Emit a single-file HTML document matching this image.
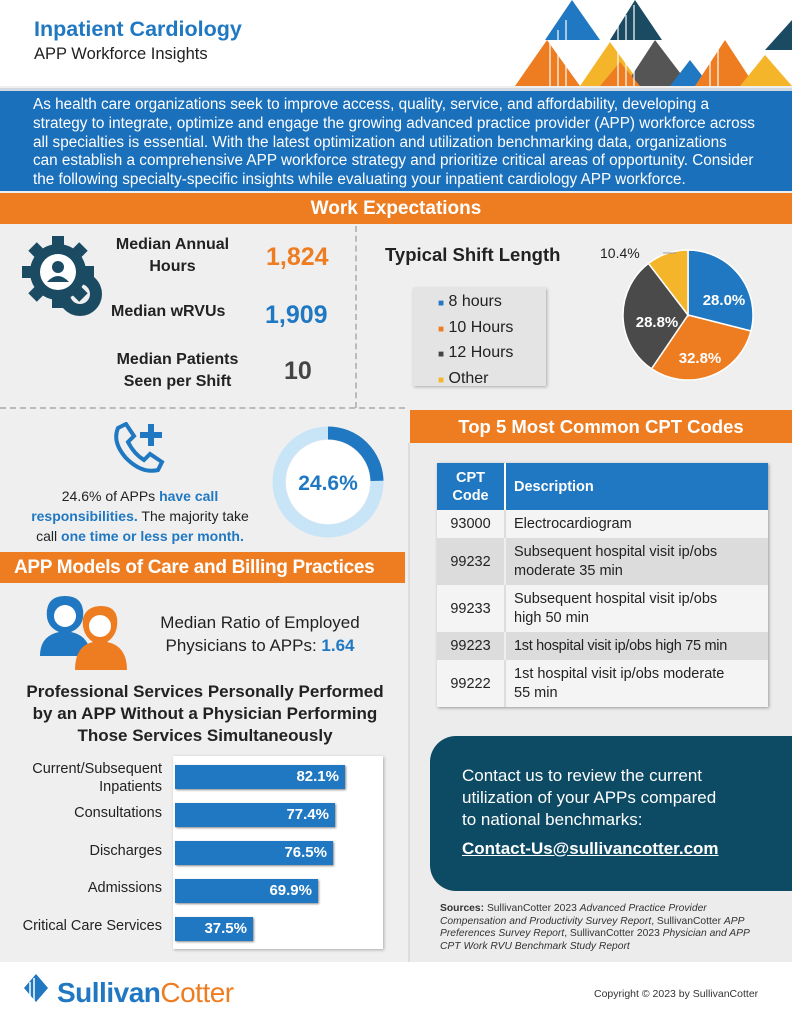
<!DOCTYPE html>
<html><head><meta charset="utf-8"><style>
*{margin:0;padding:0;box-sizing:border-box}
body{width:792px;height:1024px;position:relative;overflow:hidden;background:#efefef;font-family:"Liberation Sans",sans-serif;color:#222}
.a{position:absolute}
.c{text-align:center}
.b{font-weight:bold}
.nw{white-space:nowrap}
</style></head><body>
<div class="a" style="left:0;top:0;width:792px;height:86px;background:#fff"></div>
<div class="a" style="left:0;top:962px;width:792px;height:62px;background:#fff"></div>
<div class="a" style="left:408px;top:443px;width:384px;height:519px;background:#ececec;border-left:2px solid #ddd"></div>

<svg class="a" style="left:510px;top:0" width="282" height="86" viewBox="0 0 282 86">
<polygon points="35,40 62,0 90,40" fill="#1f78c1"/>
<polygon points="100,40 125,0 152,40" fill="#1b4a63"/>
<polygon points="5,86 37,40 70,86" fill="#ee7d22"/>
<polygon points="70,86 100,42 132,86" fill="#f5b52a"/>
<polygon points="115,86 145,40 180,86" fill="#555"/>
<polygon points="160,86 180,60 200,86" fill="#1f78c1"/>
<polygon points="185,86 215,40 245,86" fill="#ee7d22"/>
<polygon points="230,86 255,55 282,86" fill="#f5b52a"/>
<polygon points="255,50 282,20 282,50" fill="#1b4a63"/>
<polygon points="90,86 110,62 130,86" fill="#ee7d22"/>
<g stroke="#fff" stroke-width="1.5" opacity=".8"><line x1="40" y1="40" x2="40" y2="86"/><line x1="48" y1="30" x2="48" y2="86"/><line x1="56" y1="20" x2="56" y2="86"/><line x1="108" y1="25" x2="108" y2="86"/><line x1="116" y1="15" x2="116" y2="86"/><line x1="124" y1="5" x2="124" y2="86"/><line x1="200" y1="50" x2="200" y2="86"/><line x1="208" y1="45" x2="208" y2="86"/></g>
</svg>

<div class="a b nw" style="left:34px;top:17px;font-size:21.5px;color:#1f78c1">Inpatient Cardiology</div>
<div class="a nw" style="left:34px;top:45px;font-size:16.5px;color:#222">APP Workforce Insights</div>

<div class="a" style="left:0;top:88px;width:792px;height:103px;background:#1a70bb;border-top:3px solid #cfd8e0"></div>
<div class="a nw" style="left:33px;top:96px;font-size:15.3px;line-height:18.8px;color:#fff">As health care organizations seek to improve access, quality, service, and affordability, developing a<br>strategy to integrate, optimize and engage the growing advanced practice provider (APP) workforce across<br>all specialties is essential. With the latest optimization and utilization benchmarking data, organizations<br>can establish a comprehensive APP workforce strategy and prioritize critical areas of opportunity. Consider<br>the following specialty-specific insights while evaluating your inpatient cardiology APP workforce.</div>
<div class="a b c" style="left:0;top:193px;width:792px;height:31px;background:#ee7d22;color:#fff;font-size:19px;line-height:31px">Work Expectations</div>

<svg class="a" style="left:22px;top:236px" width="85" height="85" viewBox="0 0 85 85">
<circle cx="58" cy="58" r="22" fill="#1b4a63"/><circle cx="58" cy="58" r="10" fill="#efefef"/>
<g fill="#1b4a63"><circle cx="36" cy="36" r="28"/><rect x="30" y="0" width="12" height="72"/><rect x="0" y="30" width="72" height="12"/><rect x="30" y="0" width="12" height="72" transform="rotate(45 36 36)"/><rect x="30" y="0" width="12" height="72" transform="rotate(-45 36 36)"/></g>
<circle cx="36" cy="36" r="18" fill="#fff"/><circle cx="36" cy="31" r="6" fill="#1b4a63"/><path d="M25 46 q11 -12 22 0 z" fill="#1b4a63"/>
</svg>
<div class="a b c nw" style="left:100px;top:234px;width:145px;font-size:16px;line-height:22px">Median Annual<br>Hours</div>
<div class="a b" style="left:266px;top:243px;font-size:25px;color:#ee7d22">1,824</div>
<div class="a b nw" style="left:111px;top:303px;font-size:16px">Median wRVUs</div>
<div class="a b" style="left:265px;top:301px;font-size:25px;color:#1f78c1">1,909</div>
<div class="a b c nw" style="left:100px;top:349px;width:155px;font-size:16px;line-height:22px">Median Patients<br>Seen per Shift</div>
<div class="a b" style="left:284px;top:357px;font-size:25px;color:#444">10</div>
<div class="a" style="left:355px;top:226px;height:182px;border-left:2px dashed #bbb"></div>
<div class="a" style="left:0;top:407px;width:405px;border-top:2px dashed #bbb"></div>

<div class="a b nw" style="left:385px;top:244px;font-size:18.5px">Typical Shift Length</div>
<div class="a" style="left:600px;top:245px;font-size:14px">10.4%</div>
<div class="a nw" style="left:413px;top:288px;width:133px;height:98px;background:#e4e4e4;box-shadow:1px 1px 3px #aaa;font-size:16px;line-height:23.5px;padding:2px 0 0 25px">
<div><span style="color:#1f78c1;font-size:10px">■</span> 8 hours</div><div><span style="color:#ee7d22;font-size:10px">■</span> 10 Hours</div><div><span style="color:#444;font-size:10px">■</span> 12 Hours</div><div><span style="color:#f5b52a;font-size:10px">■</span> Other</div></div>
<svg class="a" style="left:618px;top:245px" width="140" height="140" viewBox="-70 -70 140 140">
<g stroke="#fff" stroke-width="1.5">
<path d="M0 0 L0 -65 A65 65 0 0 1 63.0 16.0 Z" fill="#1f78c1"/>
<path d="M0 0 L63.0 16.0 A65 65 0 0 1 -36.5 53.8 Z" fill="#ee7d22"/>
<path d="M0 0 L-36.5 53.8 A65 65 0 0 1 -39.5 -51.6 Z" fill="#4a4a4a"/>
<path d="M0 0 L-39.5 -51.6 A65 65 0 0 1 0 -65 Z" fill="#f5b52a"/>
</g>
<g fill="#fff" font-weight="bold" font-size="15" font-family="Liberation Sans,sans-serif" text-anchor="middle">
<text x="36" y="-10">28.0%</text><text x="12" y="48">32.8%</text><text x="-31" y="12">28.8%</text></g>
<polyline points="-12,-62 -25,-62" stroke="#999" fill="none"/>
</svg>

<div class="a b c nw" style="left:410px;top:410px;width:382px;height:33px;background:#ee7d22;color:#fff;font-size:18.5px;line-height:33px">Top 5 Most Common CPT Codes</div>

<svg class="a" style="left:112px;top:422px" width="58" height="52" viewBox="0 0 58 52">
<path d="M6 6 L14 2 L22 14 L16 20 Q22 32 32 38 L38 32 L50 40 L46 48 Q30 52 14 36 Q0 20 6 6 Z" fill="none" stroke="#1f78c1" stroke-width="4"/>
<rect x="36" y="2" width="6" height="22" fill="#1f78c1"/><rect x="28" y="10" width="22" height="6" fill="#1f78c1"/>
</svg>
<div class="a c nw" style="left:10px;top:486px;width:260px;font-size:14px;line-height:20px">24.6% of APPs <b style="color:#1f78c1">have call</b><br><b style="color:#1f78c1">responsibilities.</b> The majority take<br>call <b style="color:#1f78c1">one time or less per month.</b></div>
<svg class="a" style="left:270px;top:424px" width="116" height="116" viewBox="-58 -58 116 116">
<circle r="49" fill="none" stroke="#c8e4f7" stroke-width="13"/>
<circle r="49" fill="none" stroke="#1f78c1" stroke-width="13" stroke-dasharray="75.7 400" transform="rotate(-90)"/>
<circle r="42" fill="#fff"/>
<text y="8" text-anchor="middle" font-size="21" font-weight="bold" fill="#1f78c1" font-family="Liberation Sans,sans-serif">24.6%</text>
</svg>

<div class="a b nw" style="left:0;top:552px;width:405px;height:31px;background:#ee7d22;color:#fff;font-size:19px;line-height:31px;padding-left:14px;letter-spacing:-0.3px">APP Models of Care and Billing Practices</div>

<svg class="a" style="left:35px;top:596px" width="96" height="74" viewBox="0 0 96 74">
<path d="M5 60 Q5 40 24 36 Q10 30 12 14 Q14 0 30 0 Q46 0 48 14 Q50 30 36 36 Q55 40 55 60 Z" fill="#1f78c1"/>
<circle cx="30" cy="20" r="11" fill="#fff"/>
<path d="M40 74 Q40 50 58 46 Q46 38 48 22 Q52 10 66 10 Q80 10 82 22 Q84 38 72 46 Q92 50 92 74 Z" fill="#ee7d22"/>
<circle cx="65" cy="30" r="11" fill="#fff"/>
</svg>
<div class="a c nw" style="left:140px;top:611px;width:240px;font-size:17px;line-height:23px">Median Ratio of Employed<br>Physicians to APPs: <b style="color:#1f78c1">1.64</b></div>
<div class="a b c nw" style="left:5px;top:681px;width:400px;font-size:17px;line-height:22px">Professional Services Personally Performed<br>by an APP Without a Physician Performing<br>Those Services Simultaneously</div>

<div class="a" style="left:173px;top:756px;width:210px;height:193px;background:#fff;box-shadow:1px 1px 3px #aaa"></div>
<div class="a nw" style="left:0;top:760px;width:162px;text-align:right;font-size:14.5px;line-height:18px">Current/Subsequent<br>Inpatients</div>
<div class="a" style="left:0;top:805px;width:162px;text-align:right;font-size:14.5px">Consultations</div>
<div class="a" style="left:0;top:843px;width:162px;text-align:right;font-size:14.5px">Discharges</div>
<div class="a" style="left:0;top:880px;width:162px;text-align:right;font-size:14.5px">Admissions</div>
<div class="a nw" style="left:0;top:918px;width:162px;text-align:right;font-size:14.5px">Critical Care Services</div>
<div class="a b" style="left:175px;top:765px;width:170px;height:24px;background:#1f78c1;color:#fff;font-size:15px;line-height:24px;text-align:right;padding-right:6px;box-shadow:1px 1px 2px #888">82.1%</div>
<div class="a b" style="left:175px;top:803px;width:160px;height:24px;background:#1f78c1;color:#fff;font-size:15px;line-height:24px;text-align:right;padding-right:6px;box-shadow:1px 1px 2px #888">77.4%</div>
<div class="a b" style="left:175px;top:841px;width:158px;height:24px;background:#1f78c1;color:#fff;font-size:15px;line-height:24px;text-align:right;padding-right:6px;box-shadow:1px 1px 2px #888">76.5%</div>
<div class="a b" style="left:175px;top:879px;width:143px;height:24px;background:#1f78c1;color:#fff;font-size:15px;line-height:24px;text-align:right;padding-right:6px;box-shadow:1px 1px 2px #888">69.9%</div>
<div class="a b" style="left:175px;top:917px;width:78px;height:24px;background:#1f78c1;color:#fff;font-size:15px;line-height:24px;text-align:right;padding-right:6px;box-shadow:1px 1px 2px #888">37.5%</div>

<table class="a nw" style="left:437px;top:463px;width:331px;border-collapse:collapse;font-size:14.5px;box-shadow:1px 1px 3px #999;background:#f4f4f4">
<tr style="background:#1f78c1;color:#fff;height:47px"><td class="b c" style="width:68px;line-height:18px;border-right:2px solid #fff">CPT<br>Code</td><td class="b" style="padding-left:8px">Description</td></tr>
<tr style="height:28px"><td class="c" style="border-right:2px solid #ddd">93000</td><td style="padding-left:8px">Electrocardiogram</td></tr>
<tr style="height:47px;background:#dcdcdc"><td class="c" style="border-right:2px solid #eee">99232</td><td style="padding-left:8px;line-height:19px">Subsequent hospital visit ip/obs<br>moderate 35 min</td></tr>
<tr style="height:47px"><td class="c" style="border-right:2px solid #ddd">99233</td><td style="padding-left:8px;line-height:19px">Subsequent hospital visit ip/obs<br>high 50 min</td></tr>
<tr style="height:28px;background:#dcdcdc"><td class="c" style="border-right:2px solid #eee">99223</td><td style="padding-left:8px;letter-spacing:-0.3px">1st hospital visit ip/obs high 75 min</td></tr>
<tr style="height:47px"><td class="c" style="border-right:2px solid #ddd">99222</td><td style="padding-left:8px;line-height:19px">1st hospital visit ip/obs moderate<br>55 min</td></tr>
</table>

<div class="a" style="left:430px;top:736px;width:362px;height:155px;background:#0d4a63;border-radius:26px 0 0 26px"></div>
<div class="a nw" style="left:462px;top:765px;font-size:17px;line-height:22px;color:#fff">Contact us to review the current<br>utilization of your APPs compared<br>to national benchmarks:</div>
<div class="a b nw" style="left:462px;top:839px;font-size:17px;color:#fff;text-decoration:underline">Contact-Us@sullivancotter.com</div>
<div class="a nw" style="left:440px;top:903px;font-size:10.3px;line-height:12.5px;color:#333"><b>Sources:</b> SullivanCotter 2023 <i>Advanced Practice Provider</i><br><i>Compensation and Productivity Survey Report</i>, SullivanCotter <i>APP</i><br><i>Preferences Survey Report</i>, SullivanCotter 2023 <i>Physician and APP</i><br><i>CPT Work RVU Benchmark Study Report</i></div>

<svg class="a" style="left:24px;top:974px" width="30" height="32" viewBox="0 0 30 32"><polygon points="12,0 24,14 12,28 0,14" fill="#1f78c1"/><g stroke="#fff" stroke-width="1.5"><line x1="6" y1="8" x2="6" y2="32"/><line x1="10" y1="4" x2="10" y2="32"/></g></svg>
<div class="a nw" style="left:57px;top:977px;font-size:28px;letter-spacing:-0.5px"><b style="color:#1f78c1">Sullivan</b><span style="color:#ee7d22">Cotter</span></div>
<div class="a nw" style="left:594px;top:988px;font-size:10.5px;color:#333">Copyright © 2023 by SullivanCotter</div>
</body></html>
